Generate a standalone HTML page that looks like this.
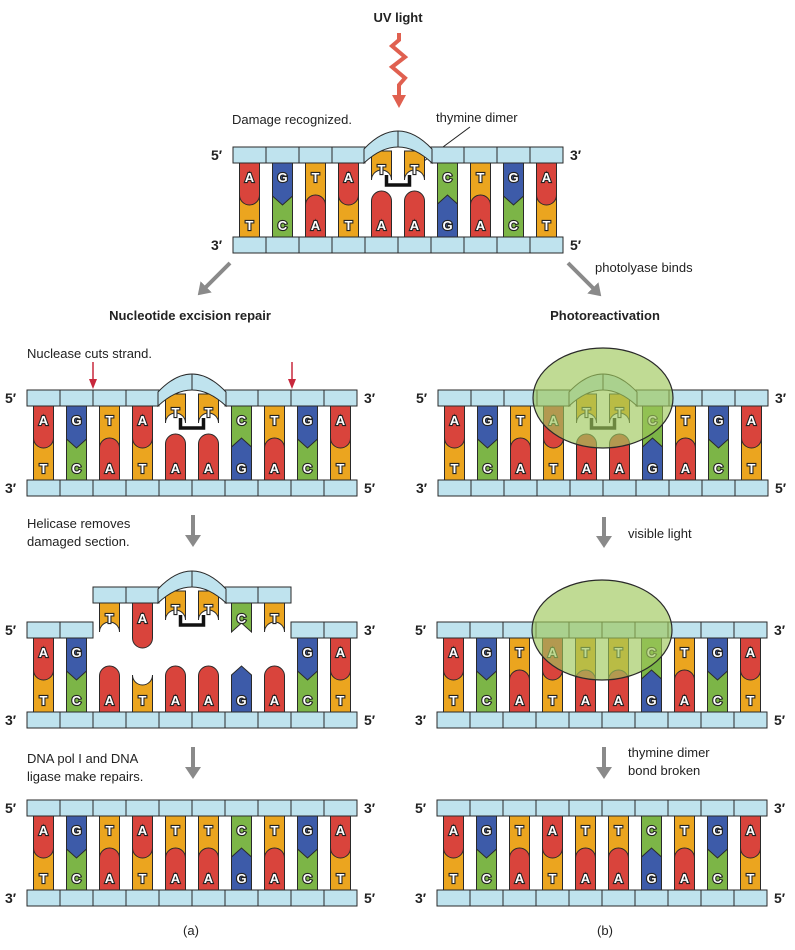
<!DOCTYPE html>
<html><head><meta charset="utf-8"><style>
html,body{margin:0;padding:0;background:#fff;}
svg{display:block;font-family:"Liberation Sans",sans-serif;}
</style></head><body>
<svg id="fig" width="795" height="950" viewBox="0 0 795 950" xmlns="http://www.w3.org/2000/svg">
<defs>
<marker id="gh" markerWidth="4" markerHeight="4" refX="1.5" refY="2" orient="auto"><path d="M0,0 L3,2 L0,4 Z" fill="#8a8a8a"/></marker>
</defs>
<g id="labels" font-size="13" fill="#222">
<text x="398" y="22" text-anchor="middle" font-weight="bold">UV light</text>
<text x="232" y="124">Damage recognized.</text>
<text x="436" y="122">thymine dimer</text>
<line x1="470" y1="127" x2="420" y2="164" stroke="#222" stroke-width="1"/>
<text x="595" y="272">photolyase binds</text>
<text x="190" y="320" text-anchor="middle" font-weight="bold">Nucleotide excision repair</text>
<text x="605" y="320" text-anchor="middle" font-weight="bold">Photoreactivation</text>
<text x="27" y="358">Nuclease cuts strand.</text>
<text x="27" y="528">Helicase removes</text>
<text x="27" y="546">damaged section.</text>
<text x="628" y="538">visible light</text>
<text x="27" y="763">DNA pol I and DNA</text>
<text x="27" y="781">ligase make repairs.</text>
<text x="628" y="757">thymine dimer</text>
<text x="628" y="775">bond broken</text>
<text x="191" y="935" text-anchor="middle">(a)</text>
<text x="605" y="935" text-anchor="middle">(b)</text>
</g>
<path d="M399,33 L399,40 L392,46 L405,57 L392,67 L405,78 L399,85 L399,96" fill="none" stroke="#e06050" stroke-width="4"/>
<path d="M392,95 L406,95 L399,108 Z" fill="#e06050"/>
<line x1="230" y1="263" x2="202" y2="291" stroke="#8a8a8a" stroke-width="4" marker-end="url(#gh)"/>
<line x1="568" y1="263" x2="597" y2="292" stroke="#8a8a8a" stroke-width="4" marker-end="url(#gh)"/>
<line x1="193" y1="515" x2="193" y2="541" stroke="#8a8a8a" stroke-width="4" marker-end="url(#gh)"/>
<line x1="604" y1="517" x2="604" y2="542" stroke="#8a8a8a" stroke-width="4" marker-end="url(#gh)"/>
<line x1="193" y1="747" x2="193" y2="773" stroke="#8a8a8a" stroke-width="4" marker-end="url(#gh)"/>
<line x1="604" y1="747" x2="604" y2="773" stroke="#8a8a8a" stroke-width="4" marker-end="url(#gh)"/>
<line x1="93" y1="362" x2="93" y2="380" stroke="#c8283c" stroke-width="1.5"/>
<path d="M89,379 L97,379 L93,389 Z" fill="#c8283c"/>
<line x1="292" y1="362" x2="292" y2="380" stroke="#c8283c" stroke-width="1.5"/>
<path d="M288,379 L296,379 L292,389 Z" fill="#c8283c"/>
<g id="dna"></g>
</svg>
<script>
const topSeq = ["A","G","T","A","T","T","C","T","G","A"];
const botSeq = ["T","C","A","T","A","A","G","A","C","T"];
const COL = {A:"#d9443c", T:"#eba51f", G:"#3d5ba9", C:"#7cb547"};
const NS = "http://www.w3.org/2000/svg";
const root = document.getElementById("dna");
const CW = 33, HW = 10;
function mk(tag, attrs, parent){
  const e = document.createElementNS(NS, tag);
  for (const k in attrs) e.setAttribute(k, attrs[k]);
  (parent||root).appendChild(e);
  return e;
}
function basePath(x, yb, ye, b){
  const s = Math.sign(ye - yb);
  const l = x - HW, r = x + HW;
  let d = "M"+l+","+yb+" L"+r+","+yb;
  if (b === "A") { const e = ye - s*10; d += " L"+r+","+e+" A10,10 0 0 "+(s>0?1:0)+" "+l+","+e; }
  else if (b === "G") { const e = ye - s*9; d += " L"+r+","+e+" L"+x+","+ye+" L"+l+","+e; }
  else if (b === "T") { d += " L"+r+","+ye+" A10,10 0 0 "+(s>0?0:1)+" "+l+","+ye; }
  else if (b === "RECT") { d += " L"+r+","+ye+" L"+l+","+ye; }
  else { d += " L"+r+","+ye+" L"+x+","+(ye - s*9)+" L"+l+","+ye; }
  return d + " Z";
}
function drawBase(g, x, yb, ye, b, ly, name, rect){
  const p = mk("path", {d: basePath(x, yb, ye, rect ? "RECT" : b), fill: COL[b], stroke:"#2a2a2a", "stroke-width":"1"}, g);
  
  
  return function(){
    const t = mk("text", {x:x, y:ly+5, "text-anchor":"middle", "font-size":"13", "font-weight":"bold", fill:"#fff", stroke:"#222", "stroke-width":"2.2", "paint-order":"stroke"}, g);
    t.textContent = b;
    
    
  };
}
function cell(g, x, y, name){
  const r = mk("rect", {x:x, y:y, width:CW, height:16, fill:"#bfe3ee", stroke:"#2a2a2a", "stroke-width":"1"}, g);
  
  
}
function dimerArc(g, x0, Ty){
  const L = x0 + 4*CW - 1, R = x0 + 6*CW + 1, c = x0 + 5*CW;
  const a = mk("path", {d:"M"+L+","+(Ty+16)+" L"+L+","+(Ty+2)+" Q"+c+","+(Ty-34)+" "+R+","+(Ty+2)+" L"+R+","+(Ty+16)+" Q"+c+","+(Ty-16)+" "+L+","+(Ty+16)+" Z", fill:"#bfe3ee", stroke:"#2a2a2a", "stroke-width":"1"}, g);
  
  
  mk("line", {x1:c, y1:Ty-16, x2:c, y2:Ty, stroke:"#2a2a2a", "stroke-width":"1"}, g);
}
function dimerBases(g, x0, Ty, labels){
  const c4 = x0 + 4*CW + 16.5, c5 = x0 + 5*CW + 16.5;
  const br = mk("path", {d:"M"+(c4+5)+","+(Ty+28)+" L"+(c4+5)+","+(Ty+38)+" L"+(c5-5)+","+(Ty+38)+" L"+(c5-5)+","+(Ty+28), fill:"none", stroke:"#111", "stroke-width":"3.5"}, g);
  
  
  labels.push(drawBase(g, c4, Ty+4, Ty+33, topSeq[4], Ty+22, "dimer-thymine-1"));
  labels.push(drawBase(g, c5, Ty+4, Ty+33, topSeq[5], Ty+22, "dimer-thymine-2"));
}
function dna(x0, Ty, mode, name){
  const g = mk("g", {});
  
  
  const J = Ty + 53;
  const labels = [];
  const dimer = (mode === "dimer" || mode === "photolyase");
  for (let i = 0; i < topSeq.length; i++){
    const cx = x0 + i*CW + 16.5;
    const hel = mode === "helicase" && i >= 2 && i <= 7;
    if (dimer && (i === 4 || i === 5)) {
      labels.push(drawBase(g, cx, Ty+90, Ty+44, botSeq[i], Ty+78, "bottom-base-"+(i+1)));
      continue;
    }
    if (hel) {
      if (i !== 4 && i !== 5) {
        const te = (topSeq[i]==="A") ? Ty+26 : Ty+10;
        labels.push(drawBase(g, cx, Ty-19, te, topSeq[i], Ty-4, "top-base-"+(i+1)));
      }
      const be = (botSeq[i]==="T"||botSeq[i]==="C") ? Ty+53 : Ty+44;
      labels.push(drawBase(g, cx, Ty+90, be, botSeq[i], Ty+78, "bottom-base-"+(i+1)));
      continue;
    }
    const tc = (topSeq[i]==="A"||topSeq[i]==="G");
    if (tc) {
      labels.push(drawBase(g, cx, Ty+90, J-5, botSeq[i], Ty+78, "bottom-base-"+(i+1), true));
      labels.push(drawBase(g, cx, Ty+16, J+5, topSeq[i], Ty+30, "top-base-"+(i+1)));
    } else {
      labels.push(drawBase(g, cx, Ty+16, J+5, topSeq[i], Ty+30, "top-base-"+(i+1), true));
      labels.push(drawBase(g, cx, Ty+90, J-5, botSeq[i], Ty+78, "bottom-base-"+(i+1)));
    }
  }
  for (let i = 0; i < topSeq.length; i++){
    cell(g, x0 + i*CW, Ty+90, "bottom-backbone-"+(i+1));
    if (dimer && (i === 4 || i === 5)) continue;
    if (mode === "helicase" && i >= 2 && i <= 7) {
      if (i !== 4 && i !== 5) cell(g, x0 + i*CW, Ty-35, "top-backbone-"+(i+1));
      continue;
    }
    cell(g, x0 + i*CW, Ty, "top-backbone-"+(i+1));
  }
  if (dimer) { dimerBases(g, x0, Ty, labels); dimerArc(g, x0, Ty); }
  if (mode === "helicase") { dimerBases(g, x0, Ty-35, labels); dimerArc(g, x0, Ty-35); }
  labels.forEach(f => f());
  const lab = [["5\u2032", x0-22, Ty+13],["3\u2032", x0+10*CW+7, Ty+13],["3\u2032", x0-22, Ty+103],["5\u2032", x0+10*CW+7, Ty+103]];
  lab.forEach((l,k)=>{
    const t = mk("text", {x:l[1], y:l[2], "font-size":"14", "font-weight":"bold", fill:"#222"}, g);
    t.textContent = l[0];
    
    
  });
  if (mode === "photolyase" || mode === "light") {
    const e = mk("ellipse", {cx:x0+5*CW, cy:Ty+8, rx:70, ry:50, fill:"rgba(158,200,90,0.65)", stroke:"#2a2a2a", "stroke-width":"1.2"}, g);
    
    
  }
}
dna(233, 147, "dimer", "damaged-dna");
dna(27, 390, "dimer", "ner-nuclease-dna");
dna(438, 390, "photolyase", "photolyase-bound-dna");
dna(27, 622, "helicase", "helicase-dna");
dna(437, 622, "light", "visible-light-dna");
dna(27, 800, "normal", "repaired-dna-a");
dna(437, 800, "normal", "repaired-dna-b");
</script>
</body></html>
